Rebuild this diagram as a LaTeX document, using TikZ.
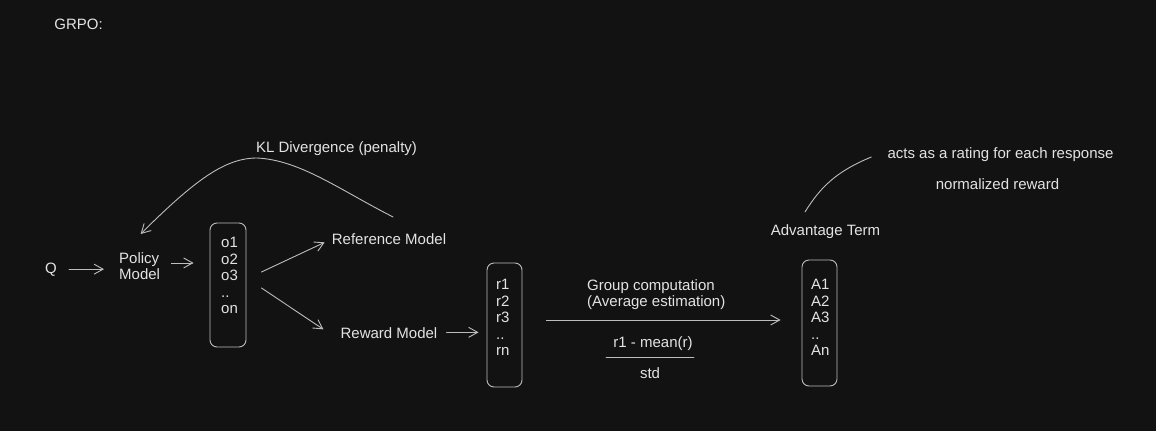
\documentclass[tikz,border=0pt]{standalone}
\usepackage{fontspec}
\setmainfont{Liberation Sans}
\usetikzlibrary{arrows.meta,calc}
\definecolor{bgc}{HTML}{121212}
\definecolor{fgc}{HTML}{E3E3E3}
\definecolor{lnc}{HTML}{BDBDBD}
\begin{document}
\begin{tikzpicture}[x=1pt,y=-1pt,
  txt/.style={text=fgc, inner sep=0pt, font=\fontsize{15}{16.5}\selectfont},
  arr/.style={draw=lnc, line width=0.9pt, line cap=round, -{Straight Barb[length=9pt,width=10pt]}},
  plainline/.style={draw=lnc, line width=0.9pt, line cap=round},
  boxs/.style={draw=lnc, line width=0.9pt, rounded corners=7pt, inner sep=0pt}]
\fill[bgc] (0,0) rectangle (1156,431);
\useasboundingbox (0,0) rectangle (1156,431);

% texts
\node[txt, anchor=base] (grpo) at (78.5,29) {GRPO:};
\node[txt, anchor=base] (q) at (51,273) {Q};
\node[txt, align=left, anchor=north west] (policy) at (119,252) {Policy\\Model};
\node[boxs, minimum width=36pt, minimum height=124pt] (obox) at (228,285) {};
\node[txt, align=left, anchor=north west] (olist) at (221,237) {o1\\o2\\o3\\..\\on};
\node[txt, anchor=base] (ref) at (389,244) {Reference Model};
\node[txt, anchor=base] (reward) at (389,338) {Reward Model};
\node[boxs, minimum width=35pt, minimum height=124pt] (rbox) at (504.5,325) {};
\node[txt, align=left, anchor=north west] (rlist) at (496,279) {r1\\r2\\r3\\..\\rn};
\node[txt, align=left, anchor=north west] (group) at (587,279) {Group computation\\(Average estimation)};
\node[txt, anchor=base] (num) at (653,347) {r1 - mean(r)};
\node[txt, anchor=base] (std) at (650,378) {std};
\node[boxs, minimum width=35pt, minimum height=126pt] (abox) at (819.5,323) {};
\node[txt, align=left, anchor=north west] (alist) at (811,279) {A1\\A2\\A3\\..\\An};
\node[txt, anchor=base] (adv) at (825.5,235) {Advantage Term};
\node[txt, anchor=base] (acts) at (1000.5,158) {acts as a rating for each response};
\node[txt, anchor=base] (norm) at (997.5,189) {normalized reward};
\node[txt, anchor=base] (kl) at (336.5,152) {KL Divergence (penalty)};

% connectors
\draw[arr] ($(q.east)+(12,0)$) -- ($(q.east -| policy.west)+(-15,0)$);
\draw[arr] ($(policy.east)+(11,-3)$) -- ($(policy.east -| obox.west)+(-16,-3)$);
\draw[arr] ($(obox.east)+(15,-13)$) -- ($(ref.south west)+(-7,-2)$);
\draw[arr] ($(obox.east)+(15,3)$) -- ($(reward.south west)+(-17,-9)$);
\draw[arr] ($(reward.south east)+(9,-6)$) -- ($(reward.south east -| rbox.west)+(-8,-6)$);
\draw[arr] ($(rbox.east)+(24,-5)$) -- ($(rbox.east -| abox.west)+(-21,-5)$);
\draw[arr] ($(ref.north)+(4,-16)$) .. controls (340,190) and (300,160) .. (257,158)
   .. controls (225,158) and (195,180) .. ($(policy.north)+(1,-18)$);
\draw[plainline] ($(adv.north)+(-20.5,-12)$) .. controls (820,188) and (835,172) .. ($(acts.base west)+(-16,-1)$);

% fraction bar
\draw[plainline] (606,357) -- (694,357);
\end{tikzpicture}
\end{document}
